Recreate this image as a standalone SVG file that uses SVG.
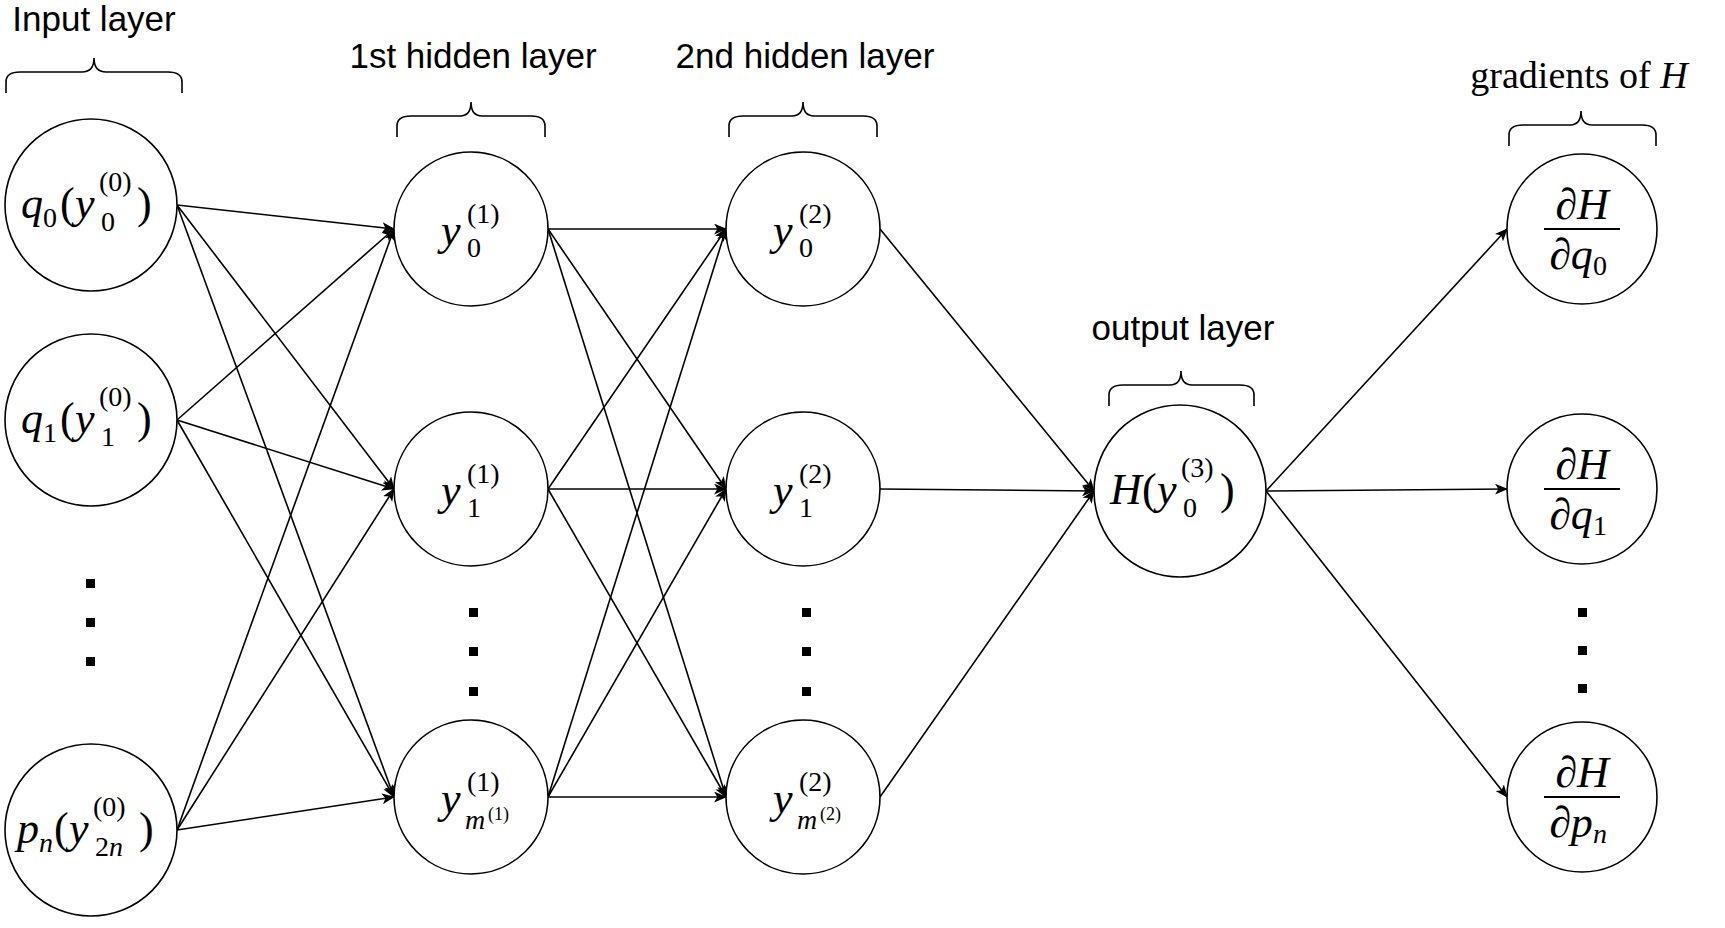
<svg xmlns="http://www.w3.org/2000/svg" width="1725" height="928" viewBox="0 0 1725 928">
<defs>
<marker id="ar" viewBox="0 0 12 10" refX="11" refY="5" markerWidth="13" markerHeight="11" markerUnits="userSpaceOnUse" orient="auto"><path d="M0,0 L12,5 L0,10 L3,5 Z" fill="#000"/></marker>
</defs>
<style>
.n{fill:#fff;stroke:#000;stroke-width:1.6}
.lab{font-family:"Liberation Sans",Arial,sans-serif;font-size:35px;fill:#000;text-anchor:middle}
.m{font-family:"Liberation Serif","DejaVu Serif",serif;font-size:44px;fill:#000}
.i{font-style:italic}
.s{font-size:28px}
.ss{font-size:18px}
.c{text-anchor:middle}
.br{fill:none;stroke:#000;stroke-width:1.6}
.e line{stroke:#000;stroke-width:1.6;marker-end:url(#ar)}
.d{fill:#000}
</style>
<rect width="1725" height="928" fill="#fff"/>
<g id="labels">
<text class="lab" x="94" y="31">Input layer</text>
<text class="lab" x="473" y="68">1st hidden layer</text>
<text class="lab" x="805" y="68">2nd hidden layer</text>
<text class="lab" x="1183" y="340">output layer</text>
<text class="m c" x="1579" y="88" style="font-size:38px">gradients of <tspan font-style="italic">H</tspan></text>
<path class="br" d="M6,93 V82 Q6,72 20,72 H82 Q94,72 94,58 Q94,72 106,72 H168 Q182,72 182,82 V93"/>
<path class="br" d="M397,137 V126 Q397,116 411,116 H460 Q471,116 471,102 Q471,116 482,116 H531 Q545,116 545,126 V137"/>
<path class="br" d="M729,137 V126 Q729,116 743,116 H792 Q803,116 803,102 Q803,116 814,116 H863 Q877,116 877,126 V137"/>
<path class="br" d="M1109,406 V395 Q1109,385 1123,385 H1170 Q1181,385 1181,371 Q1181,385 1192,385 H1240 Q1254,385 1254,395 V406"/>
<path class="br" d="M1509,146 V135 Q1509,125 1523,125 H1570 Q1581,125 1581,111 Q1581,125 1592,125 H1642 Q1656,125 1656,135 V146"/>
</g>
<g id="dots" class="d">
<rect x="86" y="579" width="9" height="9"/><rect x="86" y="618" width="9" height="9"/><rect x="86" y="657" width="9" height="9"/>
<rect x="469" y="608" width="9" height="9"/><rect x="469" y="647" width="9" height="9"/><rect x="469" y="687" width="9" height="9"/>
<rect x="802" y="608" width="9" height="9"/><rect x="802" y="647" width="9" height="9"/><rect x="802" y="687" width="9" height="9"/>
<rect x="1578" y="608" width="9" height="9"/><rect x="1578" y="646" width="9" height="9"/><rect x="1578" y="684" width="9" height="9"/>
</g>
<g id="connectors" class="e">
<line x1="177" y1="205" x2="394" y2="229"/><line x1="177" y1="205" x2="394" y2="489"/><line x1="177" y1="205" x2="394" y2="797"/>
<line x1="177" y1="420" x2="394" y2="229"/><line x1="177" y1="420" x2="394" y2="489"/><line x1="177" y1="420" x2="394" y2="797"/>
<line x1="177" y1="830" x2="394" y2="229"/><line x1="177" y1="830" x2="394" y2="489"/><line x1="177" y1="830" x2="394" y2="797"/>
<line x1="548" y1="229" x2="726" y2="229"/><line x1="548" y1="229" x2="726" y2="489"/><line x1="548" y1="229" x2="726" y2="797"/>
<line x1="548" y1="489" x2="726" y2="229"/><line x1="548" y1="489" x2="726" y2="489"/><line x1="548" y1="489" x2="726" y2="797"/>
<line x1="548" y1="797" x2="726" y2="229"/><line x1="548" y1="797" x2="726" y2="489"/><line x1="548" y1="797" x2="726" y2="797"/>
<line x1="880" y1="229" x2="1094" y2="491"/><line x1="880" y1="489" x2="1094" y2="491"/><line x1="880" y1="797" x2="1094" y2="491"/>
<line x1="1266" y1="491" x2="1507" y2="229"/><line x1="1266" y1="491" x2="1507" y2="489"/><line x1="1266" y1="491" x2="1507" y2="797"/>
</g>
<g id="in0" transform="translate(91,205)"><circle class="n" r="86"/>
<text class="m i" x="-70" y="13">q</text><text class="m s" x="-48" y="22">0</text><text class="m" x="-31" y="13">(</text><text class="m i" x="-16" y="13">y</text><text class="m s" x="8" y="-14">(0)</text><text class="m s" x="10" y="26">0</text><text class="m" x="46" y="13">)</text></g>
<g id="in1" transform="translate(91,420)"><circle class="n" r="86"/>
<text class="m i" x="-70" y="13">q</text><text class="m s" x="-48" y="22">1</text><text class="m" x="-31" y="13">(</text><text class="m i" x="-16" y="13">y</text><text class="m s" x="8" y="-14">(0)</text><text class="m s" x="10" y="26">1</text><text class="m" x="46" y="13">)</text></g>
<g id="in2" transform="translate(91,830)"><circle class="n" r="86"/>
<text class="m i" x="-74" y="13">p</text><text class="m s i" x="-52" y="22">n</text><text class="m" x="-37" y="13">(</text><text class="m i" x="-22" y="13">y</text><text class="m s" x="2" y="-14">(0)</text><text class="m s" x="4" y="26">2<tspan font-style="italic">n</tspan></text><text class="m" x="48" y="13">)</text></g>
<g id="h10" transform="translate(471,229)"><circle class="n" r="77"/>
<text class="m i" x="-30" y="16">y</text><text class="m s" x="-4" y="-6">(1)</text><text class="m s" x="-4" y="28">0</text></g>
<g id="h11" transform="translate(471,489)"><circle class="n" r="77"/>
<text class="m i" x="-30" y="16">y</text><text class="m s" x="-4" y="-6">(1)</text><text class="m s" x="-4" y="28">1</text></g>
<g id="h12" transform="translate(471,797)"><circle class="n" r="77"/>
<text class="m i" x="-30" y="16">y</text><text class="m s" x="-4" y="-6">(1)</text><text class="m s i" x="-6" y="32">m</text><text class="m ss" x="17" y="23">(1)</text></g>
<g id="h20" transform="translate(803,229)"><circle class="n" r="77"/>
<text class="m i" x="-30" y="16">y</text><text class="m s" x="-4" y="-6">(2)</text><text class="m s" x="-4" y="28">0</text></g>
<g id="h21" transform="translate(803,489)"><circle class="n" r="77"/>
<text class="m i" x="-30" y="16">y</text><text class="m s" x="-4" y="-6">(2)</text><text class="m s" x="-4" y="28">1</text></g>
<g id="h22" transform="translate(803,797)"><circle class="n" r="77"/>
<text class="m i" x="-30" y="16">y</text><text class="m s" x="-4" y="-6">(2)</text><text class="m s i" x="-6" y="32">m</text><text class="m ss" x="17" y="23">(2)</text></g>
<g id="out" transform="translate(1180,491)"><circle class="n" r="86"/>
<text class="m i" x="-70" y="13">H</text><text class="m" x="-38" y="13">(</text><text class="m i" x="-23" y="13">y</text><text class="m s" x="1" y="-14">(3)</text><text class="m s" x="3" y="26">0</text><text class="m" x="40" y="13">)</text></g>
<g id="g0" transform="translate(1582,229)"><circle class="n" r="75"/>
<text class="m i c" x="0" y="-10">∂H</text><line x1="-38" y1="0" x2="38" y2="0" stroke="#000" stroke-width="2"/><text class="m i c" x="-4" y="40">∂q<tspan class="s" font-style="normal" dy="6">0</tspan></text></g>
<g id="g1" transform="translate(1582,489)"><circle class="n" r="75"/>
<text class="m i c" x="0" y="-10">∂H</text><line x1="-38" y1="0" x2="38" y2="0" stroke="#000" stroke-width="2"/><text class="m i c" x="-4" y="40">∂q<tspan class="s" font-style="normal" dy="6">1</tspan></text></g>
<g id="g2" transform="translate(1582,797)"><circle class="n" r="75"/>
<text class="m i c" x="0" y="-10">∂H</text><line x1="-38" y1="0" x2="38" y2="0" stroke="#000" stroke-width="2"/><text class="m i c" x="-4" y="40">∂p<tspan class="s" dy="6">n</tspan></text></g>
</svg>
